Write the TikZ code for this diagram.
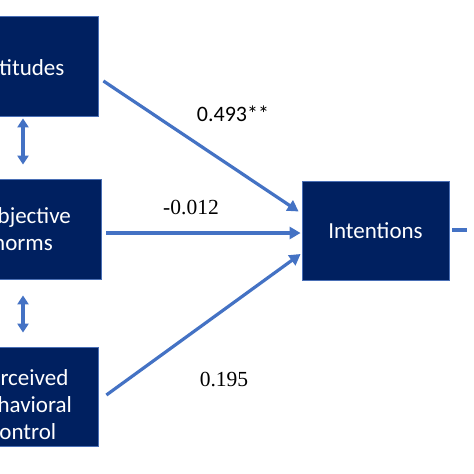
\documentclass[tikz,border=0pt]{standalone}
\usepackage{fontspec}
\setmainfont{Carlito}
\newfontfamily\serifnum{Liberation Serif}
\usetikzlibrary{arrows.meta}
\definecolor{navy}{HTML}{002060}
\definecolor{edgeblue}{HTML}{4A6FB5}
\definecolor{arrowblue}{HTML}{4472C4}
\tikzset{
  box/.style={draw=edgeblue, line width=0.8pt, fill=navy, inner sep=0pt},
  boxtext/.style={text=white, font=\fontsize{23}{27}\selectfont, align=center, inner sep=0pt},
  arr/.style={draw=arrowblue, line width=3.2pt, -{Triangle[length=11pt,width=12pt]}},
  darr/.style={draw=arrowblue, line width=3.4pt, {Triangle[length=9pt,width=11pt]}-{Triangle[length=9pt,width=11pt]}},
  stub/.style={draw=arrowblue, line width=3.2pt},
  sanslab/.style={font=\fontsize{22}{25}\selectfont, anchor=base, inner sep=0pt},
  seriflab/.style={font=\serifnum\fontsize{21.5}{25}\selectfont, anchor=base, inner sep=0pt}
}
\begin{document}
\begin{tikzpicture}[x=1pt,y=-1pt]
\useasboundingbox (0,0) rectangle (474,474);
\fill[white] (0,0) rectangle (474,474);
% boxes
\node[box, minimum width=150pt, minimum height=100pt] (att) at (23,66) {};
\node[box, minimum width=156pt, minimum height=100pt] (sn) at (23,229) {};
\node[box, minimum width=150pt, minimum height=99pt] (pbc) at (23,396.5) {};
\node[box, minimum width=147pt, minimum height=99pt] (int) at (375.5,230.5) {};
% box texts
\node[boxtext] (attT) at (22,68) {Attitudes};
\node[boxtext] (snT) at (23,229) {Subjective\\norms};
\node[boxtext] (pbcT) at (23,405) {Perceived\\behavioral\\control};
\node[boxtext] (intT) at (375.5,230.5) {Intentions};
% connectors
\draw[arr] ([shift={(5,15)}]att.east) -- ([shift={(-3,-19)}]int.west);
\draw[arr] ([shift={(5,4)}]sn.east) -- ([shift={(-1,2.5)}]int.west);
\draw[arr] ([shift={(8,-1.5)}]pbc.east) -- ([shift={(-1,23.5)}]int.west);
\draw[darr] ([shift={(0,2)}]att.south) -- ([shift={(0,-14)}]sn.north);
\draw[darr] ([shift={(0,16)}]sn.south) -- ([shift={(0,-14)}]pbc.north);
\coordinate (out) at (467,230);
\draw[stub] ([xshift=3pt]int.east |- out) -- (out);
% labels
\node[sanslab] (l1) at (233,121) {0.493**};
\node[seriflab] (l2) at (191,214) {-0.012};
\node[seriflab] (l3) at (224,386) {0.195};
\end{tikzpicture}
\end{document}
